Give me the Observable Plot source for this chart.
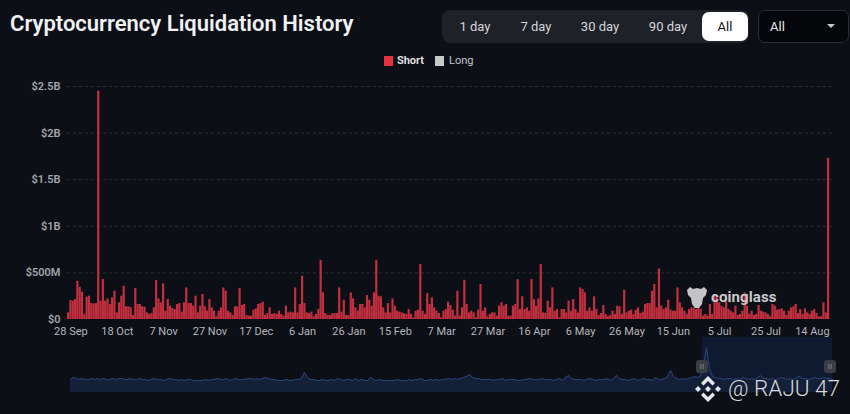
<!DOCTYPE html>
<html><head><meta charset="utf-8">
<script src="https://cdn.jsdelivr.net/npm/d3@7"></script>
<script src="https://cdn.jsdelivr.net/npm/@observablehq/plot@0.6"></script>
<style>
html,body{margin:0;padding:0;background:#0c0f16;overflow:hidden}
body{position:relative;width:850px;height:414px;font-family:Roboto,"Noto Sans",sans-serif;color:#e8e8ea}
.abs{position:absolute;white-space:nowrap}
#chart,#mini{position:absolute;left:0}
#chart{top:70px}#mini{top:335px}
svg{display:block;background:transparent}
.btn{position:absolute;top:19px;font-size:13px;color:#d5d6da;transform:translateX(-50%)}
</style></head><body>
<div class="abs" id="title" style="left:10px;top:11px;font-size:22px;font-weight:600;color:#f1f2f4">Cryptocurrency Liquidation History</div>
<div class="abs" style="left:442px;top:10px;width:307px;height:33px;background:#1e2128;border-radius:8px"></div>
<div class="abs" style="left:702px;top:12px;width:46px;height:29px;background:#fff;border-radius:7px"></div>
<div class="abs" style="left:758px;top:10px;width:89px;height:31px;background:#05060a;border:1px solid #2a2d34;border-radius:7px"></div>
<div id="btns"></div>
<div class="abs" style="left:770px;top:19px;font-size:13px;color:#e4e5e8">All</div>
<div class="abs" style="left:827px;top:24px;width:0;height:0;border-left:4px solid transparent;border-right:4px solid transparent;border-top:4px solid #c9cad0"></div>
<div class="abs" style="left:384px;top:56px;width:9px;height:10px;background:#e8303f"></div>
<div class="abs" style="left:397px;top:54px;font-size:11px;font-weight:600;color:#e8e8ea">Short</div>
<div class="abs" style="left:435px;top:56px;width:9px;height:10px;background:#c9c9c9"></div>
<div class="abs" style="left:449px;top:54px;font-size:11px;color:#c4c5c9">Long</div>
<div id="chart"></div>
<div id="mini"></div>
<svg class="abs" style="left:686px;top:286px" width="22" height="24" viewBox="0 0 22 24"><path d="M1 4 L4 1 L7 3 L11 2 L15 3 L18 1 L21 4 L20 9 L17 12 L16 18 L13 22 L9 22 L6 18 L5 12 L2 9Z" fill="#c4c4c6"/></svg>
<div class="abs" style="left:711px;top:288px;font-size:15px;font-weight:700;color:#c9c9cc;letter-spacing:.1px">coinglass</div>
<div class="abs" style="left:696px;top:360px;width:12px;height:13px;background:#3a3d45;border-radius:3px;color:#8d8f96;font-size:8px;line-height:13px;text-align:center">II</div>
<div class="abs" style="left:824px;top:360px;width:12px;height:13px;background:#3a3d45;border-radius:3px;color:#8d8f96;font-size:8px;line-height:13px;text-align:center">II</div>
<svg class="abs" style="left:694px;top:375px" width="28" height="28" viewBox="-14 -14 28 28"><g fill="#e6e6e8"><path d="M0 -13 L7 -6 L4.5 -3.5 L0 -8 L-4.500 -3.500 L-7 -6Z"/><path d="M0 13 L7 6 L4.5 3.500 L0 8 L-4.500 3.500 L-7 6Z"/><path d="M0 -3 L3 0 L0 3 L-3 0Z"/><path d="M-10 -3 L-7 0 L-10 3 L-13 0Z"/><path d="M10 -3 L13 0 L10 3 L7 0Z"/></g></svg>
<div class="abs" style="left:728px;top:375px;font-size:22.500px;font-weight:300;color:#d9d9dc">@ RAJU 47</div>
<script>
const buttonLabels = ["1 day","7 day","30 day","90 day","All"];
const buttonCenters = [475,536,600,668,725];
const START = "2024-09-27"; // first bar, one day before the first labelled tick
const shortLiq = [71,203,196,214,410,346,293,54,239,250,171,168,171,2450,196,428,196,221,161,232,303,71,179,250,357,136,136,129,43,332,161,161,136,132,71,54,64,125,418,221,179,382,89,214,143,118,107,161,171,79,179,339,171,171,143,250,71,143,268,136,89,214,125,89,29,89,125,339,303,89,71,43,136,136,332,150,161,43,36,36,100,114,161,171,186,43,64,125,54,64,54,89,54,36,143,71,79,71,339,71,161,464,171,71,
64,79,29,54,107,635,286,64,43,43,61,64,64,339,79,207,43,43,286,221,125,89,161,161,125,257,207,143,286,635,250,243,125,71,171,71,221,143,89,79,71,61,54,107,54,18,89,100,589,89,54,278,161,232,125,89,64,18,89,107,186,150,100,36,303,36,125,421,161,71,89,71,18,100,375,89,125,29,54,71,71,36,143,179,143,161,36,36,143,161,428,107,243,107,125,89,428,214,143,221,589,71,64,196,125,339,89,107,18,107,107,71,196,89,
214,107,71,339,321,286,89,125,89,243,107,43,64,150,54,29,43,89,54,143,136,54,314,71,89,100,54,100,125,64,79,161,171,171,303,375,125,543,143,107,125,207,100,89,89,339,179,125,89,54,107,125,125,107,161,107,36,54,36,161,54,250,250,179,143,125,268,107,89,71,143,43,54,89,286,143,54,89,43,54,150,89,79,71,54,29,161,143,100,107,114,89,43,89,125,136,161,64,107,54,114,71,54,89,107,64,29,29,179,71,1730];
const yTicks = [0,500,1000,1500,2000,2500];
const yLabels = ["$0","$500M","$1B","$1.5B","$2B","$2.5B"];
const xTickOffsets = [1,21,41,61,81,101,121,141,161,181,201,221,241,261,281,301,321];
const miniValues = [13,15,14,13,14,13,13,14,13,14,
13,14,13,13,14,13,14,14,13,13,
14,13,13,14,13,13,12,13,14,13,
13,12,13,14,13,13,12,13,12,13,
13,12,12,12,12,13,12,13,13,14,
13,13,14,12,13,14,13,13,13,14,
14,13,14,13,14,15,14,13,13,12,
12,12,13,12,12,13,13,14,20,15,
13,13,12,12,13,12,12,13,12,14,
13,12,13,13,12,14,12,13,12,12,
15,13,12,13,12,12,12,12,12,13,
12,12,12,13,12,13,13,14,12,12,
13,12,13,12,13,13,14,13,14,13,
14,15,16,18,15,14,14,13,13,13,
13,12,13,13,14,12,13,13,13,12,
12,13,13,14,13,13,13,14,13,13,
13,12,13,14,12,15,17,14,13,13,
13,12,13,14,13,12,13,13,13,14,
12,14,17,14,13,13,12,13,14,12,
13,14,13,13,12,15,13,13,14,16,
22,16,14,13,14,13,14,15,16,15,
17,28,45,24,16,15,14,14,13,14,
14,13,14,13,15,14,13,14,13,15,
17,14,14,13,14,13,14,15,14,13,
14,13,15,16,14,14,13,14,15,14,
14,15,14,14,13];
const brushFrom = 210.67, brushTo = 254; // selected window, in mini index units

const start = new Date(START + "T00:00:00Z");
const dayOf = i => d3.utcDay.offset(start, i);
const rows = shortLiq.map((v,i)=>({date:dayOf(i),v}));
const band = d3.utcDay.range(start, dayOf(shortLiq.length+1));
const fmt = d3.utcFormat("%-d %b");
const fontFamily = 'Roboto,"Noto Sans",sans-serif';

document.getElementById("btns").innerHTML = buttonLabels.map((t,i)=>
  `<div class="btn" style="left:${buttonCenters[i]}px;${t==="All"?"color:#111;":""}">${t}</div>`).join("");

const chart = Plot.plot({
  width:850, height:270, marginTop:16, marginBottom:21, marginLeft:67, marginRight:18.5,
  style:{background:"transparent",color:"#a3a5ab",fontFamily,fontSize:"11px"},
  x:{type:"band",domain:band,paddingInner:0.05,paddingOuter:0,round:false},
  y:{domain:[0,2500]},
  marks:[
    Plot.ruleY(yTicks.slice(1),{stroke:"#2b2f37",strokeDasharray:"3,3"}),
    Plot.barY(rows,{x:"date",y:"v",fill:"#c22f3f"}),
    Plot.axisX({ticks:xTickOffsets.map(dayOf),tickFormat:fmt,tickSize:0,tickPadding:8,label:null,fontSize:11,fill:"#b4b6bb"}),
    Plot.axisY({ticks:yTicks,tickFormat:v=>yLabels[yTicks.indexOf(v)],tickSize:0,tickPadding:7,label:null,fontSize:11,fontWeight:600,fill:"#a3a5ab"})
  ]
});
document.getElementById("chart").append(chart);

const mini = miniValues.map((v,i)=>({i,v}));
const miniPlot = Plot.plot({
  width:850, height:60, marginTop:2, marginBottom:3, marginLeft:70, marginRight:18,
  style:{background:"transparent"},
  x:{axis:null,domain:[0,miniValues.length-1]},
  y:{axis:null,domain:[0,55]},
  marks:[
    Plot.rect([{}],{x1:brushFrom,x2:brushTo,y1:0,y2:55,fill:"#0f1930"}),
    Plot.areaY(mini,{x:"i",y:"v",fill:"#141f38",curve:"linear"}),
    Plot.lineY(mini,{x:"i",y:"v",stroke:"#2d4679",strokeWidth:1,curve:"linear"})
  ]
});
document.getElementById("mini").append(miniPlot);
</script>
</body></html>
